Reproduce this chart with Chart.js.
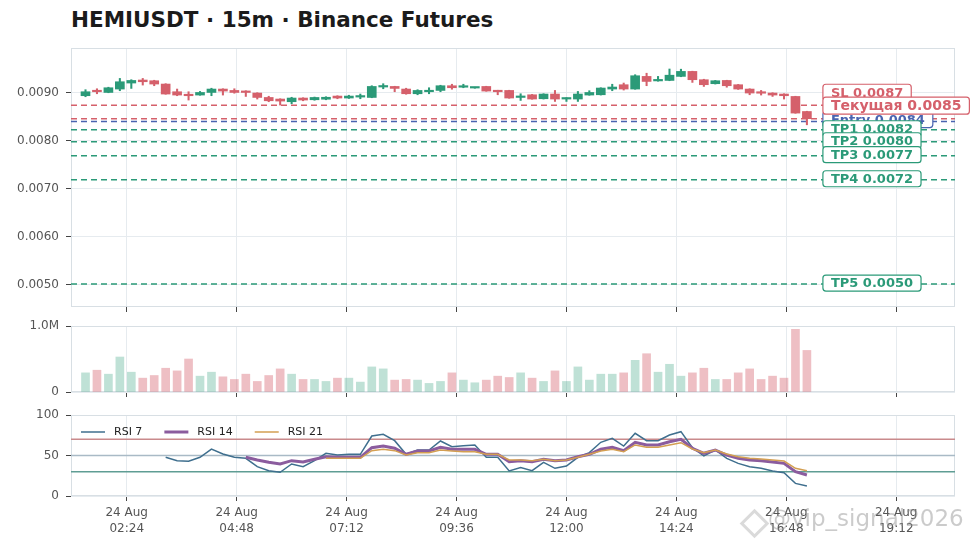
<!DOCTYPE html>
<html>
<head>
<meta charset="utf-8">
<script src="https://cdn.jsdelivr.net/npm/chart.js@4.4.0/dist/chart.umd.min.js"></script>
<style>
html, body { margin: 0; padding: 0; background: #fff; }
#wrap { position: relative; width: 971px; height: 548px; overflow: hidden; font-family: "DejaVu Sans", sans-serif; }
#title { position: absolute; left: 71px; top: 8px; font-size: 21.5px; line-height: 24px; font-weight: bold; color: #1b1b1b; }
canvas { position: absolute; left: 0; }
#mark { position: absolute; left: 768px; top: 505px; font-size: 23px; color: rgba(140,140,140,0.45); white-space: nowrap; }
#logo { position: absolute; left: 744px; top: 513px; width: 15px; height: 15px; border: 3px solid rgba(150,150,150,0.35); transform: rotate(45deg); }
</style>
</head>
<body>
<div id="wrap">
  <div id="title"></div>
  <canvas id="priceChart" width="971" height="312" style="top:0"></canvas>
  <canvas id="volumeChart" width="971" height="86" style="top:312px"></canvas>
  <canvas id="rsiChart" width="971" height="150" style="top:398px"></canvas>
  <div id="logo"></div>
  <div id="mark">@vip_signal2026</div>
</div>
<script>
// chart data
const chartTitle = "HEMIUSDT · 15m · Binance Futures";
const startTime = "01:30";   // first candle
const stepMin = 15;
const axisStart = "01:11";
const axisEnd = "20:29";

const opens = [0.008938,0.009031,0.009006,0.009077,0.009202,0.009265,0.009250,0.009181,0.009021,0.008952,
  0.008952,0.009006,0.009077,0.009048,0.009035,0.008994,0.008902,0.008869,0.008813,0.008890,
  0.008854,0.008865,0.008931,0.008890,0.008910,0.008902,0.009119,0.009131,0.009077,0.008979,
  0.009021,0.009048,0.009146,0.009115,0.009098,0.009131,0.009048,0.009048,0.008902,0.008958,
  0.008875,0.008973,0.008869,0.008869,0.008952,0.008958,0.009077,0.009167,0.009077,0.009340,
  0.009246,0.009256,0.009340,0.009444,0.009271,0.009188,0.009256,0.009167,0.009077,0.009015,
  0.008994,0.008973,0.008923,0.008610];
const highs = [0.009063,0.009083,0.009115,0.009298,0.009271,0.009298,0.009260,0.009188,0.009077,0.009021,
  0.009027,0.009094,0.009083,0.009083,0.009042,0.009000,0.008927,0.008875,0.008906,0.008896,
  0.008910,0.008917,0.008938,0.008948,0.008973,0.009146,0.009188,0.009135,0.009094,0.009063,
  0.009104,0.009156,0.009177,0.009177,0.009115,0.009135,0.009052,0.009052,0.008979,0.008965,
  0.008979,0.009048,0.008896,0.009027,0.009042,0.009104,0.009177,0.009202,0.009375,0.009406,
  0.009340,0.009494,0.009490,0.009448,0.009281,0.009256,0.009260,0.009173,0.009083,0.009048,
  0.009000,0.008979,0.008927,0.008615];
const lows = [0.008917,0.008979,0.009000,0.009042,0.009090,0.009160,0.009146,0.008969,0.008938,0.008848,
  0.008948,0.008938,0.008952,0.008990,0.008923,0.008869,0.008813,0.008744,0.008771,0.008833,
  0.008844,0.008854,0.008875,0.008881,0.008875,0.008896,0.009083,0.009021,0.008969,0.008958,
  0.008979,0.009021,0.009073,0.009104,0.009094,0.009031,0.008958,0.008885,0.008840,0.008865,
  0.008869,0.008819,0.008819,0.008819,0.008948,0.008952,0.009042,0.009056,0.009073,0.009146,
  0.009240,0.009250,0.009333,0.009215,0.009131,0.009181,0.009115,0.009069,0.008958,0.008952,
  0.008923,0.008869,0.008573,0.008333];
const closes = [0.009021,0.009021,0.009104,0.009229,0.009256,0.009229,0.009181,0.008973,0.008952,0.008938,
  0.009006,0.009077,0.009035,0.009006,0.009006,0.008902,0.008833,0.008827,0.008890,0.008848,
  0.008902,0.008906,0.008890,0.008931,0.008923,0.009131,0.009135,0.009090,0.008979,0.009048,
  0.009042,0.009146,0.009104,0.009125,0.009110,0.009035,0.009021,0.008890,0.008917,0.008869,
  0.008973,0.008869,0.008890,0.008973,0.009006,0.009098,0.009119,0.009077,0.009354,0.009235,
  0.009267,0.009365,0.009444,0.009271,0.009167,0.009250,0.009146,0.009077,0.008994,0.008990,
  0.008952,0.008938,0.008577,0.008460];
const volumes = [290000,330000,270000,530000,300000,210000,250000,360000,320000,500000,
  240000,300000,230000,190000,270000,160000,250000,350000,270000,190000,
  190000,160000,210000,210000,150000,380000,350000,180000,190000,180000,
  130000,160000,290000,180000,140000,180000,240000,220000,290000,210000,
  160000,320000,160000,380000,180000,270000,270000,290000,480000,580000,
  300000,420000,240000,290000,360000,190000,190000,290000,350000,190000,
  240000,210000,950000,630000];
const rsi7 = [null,null,null,null,null,null,null,47.8,43.6,42.8,
  47.8,58.0,51.9,47.8,46.5,36.2,31.2,29.3,39.5,36.2,
  43.6,52.7,50.6,51.5,51.5,74.0,76.2,68.3,51.5,56.8,
  56.8,67.9,60.9,62.1,63.0,47.8,47.8,30.9,35.0,31.2,
  41.6,34.2,37.0,47.8,53.5,66.3,71.2,61.7,77.4,68.3,
  68.3,75.3,79.4,59.7,49.4,56.8,46.5,40.3,36.2,34.2,
  30.9,28.8,15.6,12.3];
const rsi14 = [null,null,null,null,null,null,null,null,null,null,
  null,null,null,null,47.8,44.4,41.6,39.5,43.6,42.0,
  45.3,48.5,47.8,47.8,47.8,59.7,61.7,58.9,51.5,55.6,
  55.6,60.1,57.7,57.7,57.7,51.5,51.5,42.4,43.6,42.4,
  45.3,43.6,44.4,48.5,51.5,57.7,60.1,56.0,66.3,63.0,
  63.0,67.0,70.0,58.9,52.7,56.8,50.6,46.5,44.4,43.6,
  42.0,40.3,30.0,25.9];
const rsi21 = [null,null,null,null,null,null,null,null,null,null,
  null,null,null,null,null,null,null,null,null,null,
  null,46.5,46.5,46.5,46.5,56.0,57.7,56.0,50.6,53.5,
  53.5,56.8,55.6,54.7,54.7,51.5,51.5,44.4,44.4,43.6,
  45.3,43.6,44.4,47.8,51.5,55.6,57.7,54.7,63.0,60.1,
  60.1,63.0,65.8,58.0,53.5,56.8,51.9,48.5,46.5,45.7,
  44.4,43.2,34.2,31.2];

const tickDay = "24 Aug";
const tickTimes = ["02:24","04:48","07:12","09:36","12:00","14:24","16:48","19:12"];
const priceTicks = [0.005, 0.006, 0.007, 0.008, 0.009];
const volumeTicks = [0, 1000000];
const rsiTicks = [0, 50, 100];

const levelNames = ["SL", "Текущая", "Entry", "TP1", "TP2", "TP3", "TP4", "TP5"];
const levelValues = [0.00874, 0.00846, 0.00840, 0.00823, 0.00798, 0.00769, 0.00719, 0.00502];
const rsiLevels = [70, 50, 30];

// colours
const GREEN = "#2b9a78";
const RED = "#d5606b";
const BLUE = "#4a64b0";
const GRID = "#e6ebef";
const FRAME = "#d8dfe4";

Chart.defaults.font.family = '"DejaVu Sans", sans-serif';
Chart.defaults.font.size = 12;
Chart.defaults.color = "#555";
Chart.defaults.animation = false;
Chart.defaults.events = [];
Chart.defaults.plugins.legend.display = false;
Chart.defaults.plugins.tooltip.enabled = false;

document.getElementById("title").textContent = chartTitle;

function toMin(t) {
    const [h, m] = t.split(":").map(Number);
    return h * 60 + m;
}
const xMin = (toMin(axisStart) - toMin(startTime)) / stepMin;
const xMax = (toMin(axisEnd) - toMin(startTime)) / stepMin;
const tickIdx = tickTimes.map(t => (toMin(t) - toMin(startTime)) / stepMin);
const isUp = i => closes[i] >= opens[i];

function levelColor(name) {
    if (name.startsWith("TP")) return GREEN;
    if (name === "Entry") return BLUE;
    return RED;
}

// shared x axis, labels only on the bottom pane
function xAxis(showLabels, height) {
    return {
        type: "linear",
        min: xMin,
        max: xMax,
        offset: false,
        afterBuildTicks: s => { s.ticks = tickIdx.map(v => ({ value: v })); },
        afterFit: s => { s.height = height; s.paddingLeft = 0; s.paddingRight = 0; },
        border: { display: false },
        grid: { offset: false, color: GRID, tickColor: "#444", tickLength: 5, drawTicks: true },
        ticks: {
            autoSkip: false,
            maxRotation: 0,
            padding: 4,
            color: showLabels ? "#555" : "rgba(0,0,0,0)",
            font: { size: 12, lineHeight: 1.35 },
            callback: (v, i) => [tickDay, tickTimes[i]]
        }
    };
}

function yAxis(min, max, ticks, fmt) {
    return {
        min: min,
        max: max,
        afterBuildTicks: s => { s.ticks = ticks.map(v => ({ value: v })); },
        afterFit: s => { s.width = 71; s.paddingTop = 0; s.paddingBottom = 0; },
        border: { display: false },
        grid: { color: GRID, tickColor: "#444", tickLength: 5 },
        ticks: { padding: 7, color: "#555", callback: fmt }
    };
}

// light frame round each pane
const framePlugin = {
    id: "frame",
    beforeDatasetsDraw(chart) {
        const { ctx, chartArea: a } = chart;
        ctx.save();
        ctx.strokeStyle = FRAME;
        ctx.lineWidth = 1;
        ctx.strokeRect(a.left + 0.5, a.top + 0.5, a.right - a.left - 1, a.bottom - a.top - 1);
        ctx.restore();
    }
};

// boxed labels for the levels
const labelShift = [-13, -13, -2, -1, -1, -1, -1, -1];
const levelLabels = {
    id: "levelLabels",
    afterDatasetsDraw(chart) {
        const { ctx } = chart;
        const x = chart.scales.x, y = chart.scales.y;
        const left = x.getPixelForValue(opens.length - 1) + 16;
        [2, 0, 1, 3, 4, 5, 6, 7].forEach(i => {
            const text = levelNames[i] + " " + levelValues[i].toFixed(4);
            const size = i === 1 ? 14 : 13;
            const col = levelColor(levelNames[i]);
            ctx.save();
            ctx.font = "bold " + size + 'px "DejaVu Sans"';
            const w = ctx.measureText(text).width + 16;
            const h = size + 3;
            const cy = y.getPixelForValue(levelValues[i]) + labelShift[i];
            ctx.beginPath();
            ctx.roundRect(left, cy - h / 2, w, h, 3);
            ctx.fillStyle = "#fff";
            ctx.fill();
            ctx.strokeStyle = col;
            ctx.lineWidth = 1.2;
            ctx.stroke();
            ctx.fillStyle = col;
            ctx.textBaseline = "middle";
            ctx.fillText(text, left + 8, cy + 1);
            ctx.restore();
        });
    }
};

// price pane
const levelSets = levelValues.map((v, i) => ({
    type: "line",
    data: [{ x: xMin, y: v }, { x: xMax, y: v }],
    borderColor: levelColor(levelNames[i]),
    borderWidth: 1.5,
    borderDash: [6, 4],
    pointRadius: 0,
    order: 5
}));

new Chart(document.getElementById("priceChart"), {
    type: "bar",
    data: {
        datasets: [
            {
                data: opens.map((o, i) => ({ x: i, y: [lows[i], highs[i]] })),
                backgroundColor: c => isUp(c.dataIndex) ? GREEN : RED,
                barThickness: 1.4,
                grouped: false,
                order: 2
            },
            {
                data: opens.map((o, i) => ({ x: i, y: [o, closes[i]] })),
                backgroundColor: c => isUp(c.dataIndex) ? GREEN : RED,
                barThickness: 9,
                minBarLength: 1.5,
                grouped: false,
                order: 1
            },
            ...levelSets
        ]
    },
    options: {
        responsive: false,
        layout: { padding: { top: 48, right: 16, left: 0, bottom: 0 } },
        scales: {
            x: xAxis(false, 5),
            y: yAxis(0.004542, 0.009931, priceTicks, v => v.toFixed(4))
        }
    },
    plugins: [framePlugin, levelLabels]
});

// volume pane
new Chart(document.getElementById("volumeChart"), {
    type: "bar",
    data: {
        datasets: [{
            data: volumes.map((v, i) => ({ x: i, y: v })),
            backgroundColor: c => isUp(c.dataIndex) ? "rgba(43,154,120,0.3)" : "rgba(213,96,107,0.4)",
            barThickness: 8
        }]
    },
    options: {
        responsive: false,
        layout: { padding: { top: 14, right: 16, left: 0, bottom: 0 } },
        scales: {
            x: xAxis(false, 6),
            y: yAxis(0, 1000000, volumeTicks, v => v === 0 ? "0" : (v / 1e6).toFixed(1) + "M")
        }
    },
    plugins: [framePlugin]
});

// rsi pane
const rsiLegend = {
    id: "rsiLegend",
    afterDatasetsDraw(chart) {
        const { ctx, chartArea: a } = chart;
        let x = a.left + 10;
        const y = a.top + 17;
        ctx.save();
        ctx.font = '11px "DejaVu Sans"';
        ctx.textBaseline = "middle";
        chart.data.datasets.filter(d => d.label).forEach(d => {
            ctx.strokeStyle = d.borderColor;
            ctx.lineWidth = d.borderWidth;
            ctx.beginPath();
            ctx.moveTo(x, y);
            ctx.lineTo(x + 24, y);
            ctx.stroke();
            ctx.fillStyle = "#222";
            ctx.fillText(d.label, x + 33, y);
            x += 33 + ctx.measureText(d.label).width + 22;
        });
        ctx.restore();
    }
};

const rsiLevelColors = ["#c98a8c", "#a9bac6", "#5f9d94"];

new Chart(document.getElementById("rsiChart"), {
    type: "line",
    data: {
        datasets: [
            { label: "RSI 7", data: rsi7.map((v, i) => ({ x: i, y: v })), borderColor: "#3f6f8e", borderWidth: 1.5, pointRadius: 0, order: 2 },
            { label: "RSI 14", data: rsi14.map((v, i) => ({ x: i, y: v })), borderColor: "#8b5c9e", borderWidth: 3, pointRadius: 0, order: 1 },
            { label: "RSI 21", data: rsi21.map((v, i) => ({ x: i, y: v })), borderColor: "#d39f52", borderWidth: 1.5, pointRadius: 0, order: 0 },
            ...rsiLevels.map((v, i) => ({
                data: [{ x: xMin, y: v }, { x: xMax, y: v }],
                borderColor: rsiLevelColors[i],
                borderWidth: 1.5,
                pointRadius: 0,
                order: 5
            }))
        ]
    },
    options: {
        responsive: false,
        layout: { padding: { top: 17, right: 16, left: 0, bottom: 0 } },
        scales: {
            x: xAxis(true, 52),
            y: yAxis(0, 100, rsiTicks, v => String(v))
        }
    },
    plugins: [framePlugin, rsiLegend]
});
</script>
</body>
</html>
